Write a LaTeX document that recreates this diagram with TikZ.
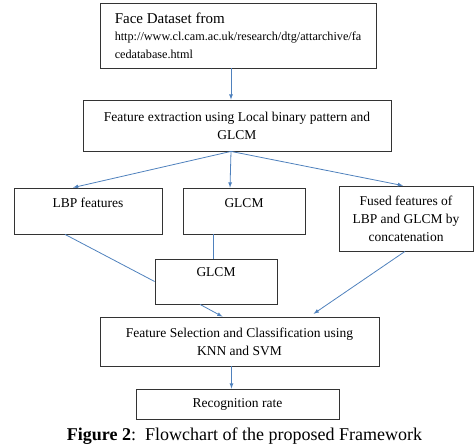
\documentclass[tikz,border=0pt]{standalone}
\usepackage{fontspec}
\setmainfont{Liberation Serif}
\usepackage{xcolor}
\usetikzlibrary{positioning}
\tikzset{>=latex}
\definecolor{flowblue}{RGB}{79,129,189}

\begin{document}
\begin{tikzpicture}[x=1pt, y=-1pt,
            stage/.style={rectangle, draw=black!80, line width=0.8pt, align=center, inner sep=0pt, font=\fontsize{13.5}{18}\selectfont},
            toptext/.style={text height=8pt, text depth=#1},
            flow/.style={->, color=flowblue, line width=0.8pt},
            link/.style={color=flowblue, line width=0.8pt}
        ]
        \useasboundingbox (0,0) rectangle (474,445);
        \node[stage, minimum width=276pt, minimum height=65pt, align=left, font=\fontsize{12.2}{17.5}\selectfont] (dataset) at (238,35.5) {{\fontsize{15}{18}\selectfont Face Dataset from}\\http://www.cl.cam.ac.uk/research/dtg/attarchive/fa\\cedatabase.html};
        \node[stage, minimum width=308pt, minimum height=51pt] (feat) at (237,125.5) {Feature extraction using Local binary pattern and\\GLCM};
        \path[flow] ([xshift=-7pt]dataset.south) edge ([xshift=-7pt]dataset.south |- feat.north);
        \node[stage, toptext=15pt, minimum width=148pt, minimum height=46pt] (lbp) at (88,211) {LBP features};
        \node[stage, toptext=15pt, minimum width=122pt, minimum height=46pt] (glcm) at (244,211) {GLCM};
        \node[stage, minimum width=134pt, minimum height=65pt] (fused) at (406,218.5) {Fused features of\\LBP and GLCM by\\concatenation};
        \path[flow] ([xshift=-6pt]feat.south) edge ([xshift=-15pt]lbp.north);
        \path[flow] ([xshift=-6pt]feat.south) edge ([xshift=-14pt]glcm.north);
        \path[flow] ([xshift=-6pt]feat.south) edge ([xshift=-3pt]fused.north);
        \node[stage, toptext=18pt, minimum width=122pt, minimum height=45pt] (glcmsel) at (216,281.5) {GLCM};
        \path[link] ([xshift=-23pt]lbp.south) edge (glcmsel.west);
        \path[link] ([xshift=-31pt]glcm.south) edge ([xshift=-31pt]glcm.south |- glcmsel.north);
        \node[stage, minimum width=279pt, minimum height=49pt] (classify) at (239.5,341.5) {Feature Selection and Classification using\\KNN and SVM};
        \path[flow] ([xshift=-16pt]glcmsel.south) edge ([xshift=-17pt]classify.north);
        \path[flow, shorten >=5pt] ([xshift=-1pt]fused.south) edge ([xshift=70pt]classify.north);
        \node[stage, minimum width=203pt, minimum height=30pt] (rate) at (237.5,404) {Recognition rate};
        \path[flow] ([xshift=-8pt]classify.south) edge ([xshift=-8pt]classify.south |- rate.north);
        \node[font=\fontsize{18}{20}\selectfont, anchor=base, inner sep=0pt] (caption) at (244.5,440.5) {\textbf{Figure 2}:\ \ Flowchart of the proposed Framework};
        \end{tikzpicture}
\end{document}
